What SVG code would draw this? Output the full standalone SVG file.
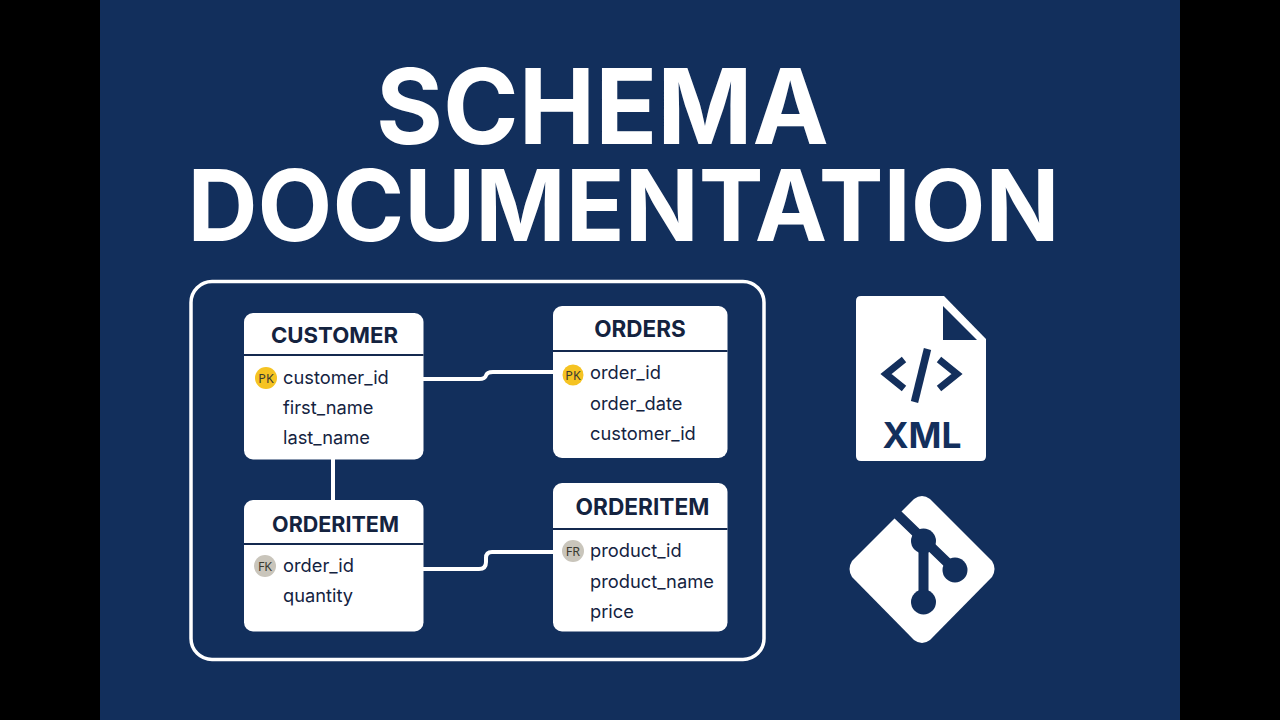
<svg xmlns="http://www.w3.org/2000/svg" width="1280" height="720" viewBox="0 0 1280 720">
<style>
.t{font-family:"Inter","Open Sans",sans-serif;font-weight:700;fill:#fff;text-anchor:middle}
.box{fill:#fff}
.hd{font-family:"Inter","Noto Sans",sans-serif;font-weight:700;fill:#14233f;font-size:22.200px;text-anchor:middle}
.f{font-family:"Inter","Noto Sans",sans-serif;font-weight:400;fill:#14233f;font-size:18.300px}
.sep{stroke:#14294f;stroke-width:2;fill:none}
.con{stroke:#fff;stroke-width:4;fill:none}
.b{font-family:"Noto Sans",sans-serif;font-size:12.500px;text-anchor:middle;fill:#3a3a30}
.ic{fill:none;stroke:#132f5c}
</style>
<rect width="1280" height="720" fill="#000"/>
<rect x="100" width="1080" height="720" fill="#122f5c"/>
<g id="title">
<text class="t" font-size="104" x="602.500" y="144" textLength="453" lengthAdjust="spacingAndGlyphs">SCHEMA</text>
<text class="t" font-size="98.500" x="623.500" y="240.500" textLength="872" lengthAdjust="spacingAndGlyphs">DOCUMENTATION</text>
</g>
<rect id="frame" x="191" y="281.500" width="573" height="378" rx="21" fill="none" stroke="#fff" stroke-width="3.500"/>
<g id="connectors">
<path class="con" d="M423 379H479Q485 379 486 375.500Q487 372 493 372H554"/>
<path class="con" d="M333 459V501"/>
<path class="con" d="M423 569H479Q486 569 486 562V558Q486 552 492 552H554"/>
</g>
<g id="customer">
<rect class="box" x="244" y="313" width="179.500" height="146.500" rx="9"/>
<path class="sep" d="M244 355H423.500"/>
<text class="hd" x="334.500" y="343">CUSTOMER</text>
<circle cx="266" cy="378" r="11" fill="#f5c322"/><text class="b" x="266" y="382.500">PK</text>
<text class="f" x="283" y="383.500">customer_id</text>
<text class="f" x="283" y="413.500">first_name</text>
<text class="f" x="283" y="443.500">last_name</text>
</g>
<g id="orders">
<rect class="box" x="553" y="306" width="174.500" height="152" rx="9"/>
<path class="sep" d="M553 351H727.500"/>
<text class="hd" x="640" y="337" style="font-size:22.500px">ORDERS</text>
<circle cx="573" cy="375" r="10.500" fill="#f5c322"/><text class="b" x="573" y="379.500">PK</text>
<text class="f" x="590" y="379">order_id</text>
<text class="f" x="590" y="409.500">order_date</text>
<text class="f" x="590" y="439.500">customer_id</text>
</g>
<g id="orderitem-left">
<rect class="box" x="244" y="500" width="179.500" height="131.500" rx="9"/>
<path class="sep" d="M244 544H423.500"/>
<text class="hd" x="335.500" y="532" style="font-size:21.500px">ORDERITEM</text>
<circle cx="265" cy="566" r="11" fill="#c9c5bb"/><text class="b" x="265" y="570.500">FK</text>
<text class="f" x="283" y="571.500">order_id</text>
<text class="f" x="283" y="601.500">quantity</text>
</g>
<g id="orderitem-right">
<rect class="box" x="553" y="483" width="174.500" height="148.500" rx="9"/>
<path class="sep" d="M553 529H727.500"/>
<text class="hd" x="642.500" y="515" style="font-size:22.700px">ORDERITEM</text>
<circle cx="573" cy="551" r="11" fill="#c9c5bb"/><text class="b" x="573" y="555.500">FR</text>
<text class="f" x="590" y="556.500">product_id</text>
<text class="f" x="590" y="587.500">product_name</text>
<text class="f" x="590" y="618">price</text>
</g>
<g id="xml-icon">
<path fill="#fff" d="M861 296H944L986 339V456Q986 461 981 461H861Q856 461 856 456V301Q856 296 861 296Z"/>
<path fill="#122f5c" d="M943 306L977 340H943Z"/>
<path class="ic" stroke-width="7" d="M904 359.500L886 374L904 388.500M939 359.500L957 374L939 388.500"/>
<path class="ic" stroke-width="7.500" d="M927.500 349L914.500 402"/>
<text x="922" y="448" font-family="Inter,Noto Sans,sans-serif" font-weight="700" font-size="36" fill="#132f5c" text-anchor="middle" textLength="79" lengthAdjust="spacingAndGlyphs">XML</text>
</g>
<g id="git-icon">
<path fill="#fff" d="M914 499Q922 493 930 499L992 561Q997 569 992 577L930 640Q922 646 914 640L852 577Q847 569 852 561Z"/>
<path class="ic" stroke-width="10" d="M897 514L955 570M923.500 532V600"/>
<circle cx="923.500" cy="541" r="12.500" fill="#122f5c"/>
<circle cx="955" cy="570" r="12.500" fill="#122f5c"/>
<circle cx="923.500" cy="602" r="12.500" fill="#122f5c"/>
</g>
</svg>
